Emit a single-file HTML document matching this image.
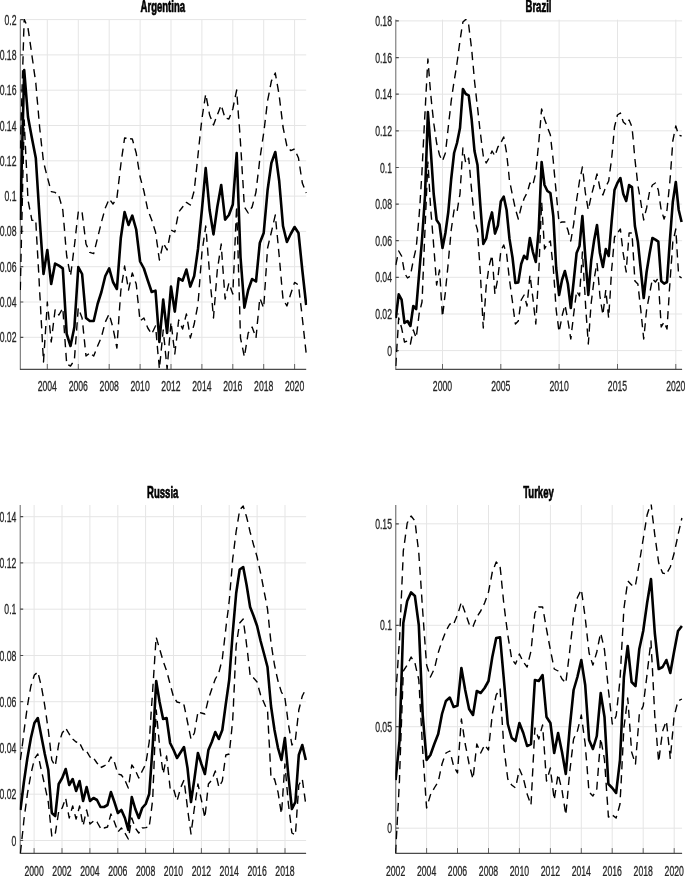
<!DOCTYPE html>
<html lang="en"><head><meta charset="utf-8"><title>Figure</title>
<style>
html,body{margin:0;padding:0;background:#fff;}
body{width:685px;height:876px;overflow:hidden;}
svg{display:block;}
.t{font-family:"Liberation Sans",sans-serif;fill:#262626;}
.tk{font-size:14px;stroke:#262626;stroke-width:0.25;vector-effect:non-scaling-stroke;}
.ti{font-size:16px;font-weight:bold;fill:#000;stroke:#000;stroke-width:0.55;vector-effect:non-scaling-stroke;}
.g{stroke:#e5e5e5;stroke-width:1;fill:none;}
.ax{stroke:#4a4a4a;stroke-width:1.2;fill:none;}
.axv{stroke:#404040;stroke-width:0.8;fill:none;}
.s{stroke:#000;stroke-width:2.6;fill:none;stroke-linejoin:round;stroke-linecap:butt;}
.d{stroke:#000;stroke-width:1.4;fill:none;stroke-linejoin:round;stroke-linecap:butt;}
</style></head><body>
<svg width="685" height="876" viewBox="0 0 685 876">
<rect width="685" height="876" fill="#fff"/>
<g id="p0">
<clipPath id="c0"><rect x="19.8" y="19.1" width="287.4" height="350.7"/></clipPath>
<path class="g" d="M47.3 19.6V369.3M78.3 19.6V369.3M109.2 19.6V369.3M140.1 19.6V369.3M171 19.6V369.3M201.9 19.6V369.3M232.8 19.6V369.3M263.7 19.6V369.3M294.6 19.6V369.3M20.3 337.3H306.2M20.3 302H306.2M20.3 266.7H306.2M20.3 231.4H306.2M20.3 196.1H306.2M20.3 160.8H306.2M20.3 125.5H306.2M20.3 90.2H306.2M20.3 54.9H306.2M20.3 19.6H306.2"/>
<path class="ax" d="M19.9 369.3H306.2M20.3 337.3h3M20.3 302h3M20.3 266.7h3M20.3 231.4h3M20.3 196.1h3M20.3 160.8h3M20.3 125.5h3M20.3 90.2h3M20.3 54.9h3M20.3 19.6h3"/>
<path class="axv" d="M20.3 19.6V369.3M47.3 369.3v-5.3M78.3 369.3v-5.3M109.2 369.3v-5.3M140.1 369.3v-5.3M171 369.3v-5.3M201.9 369.3v-5.3M232.8 369.3v-5.3M263.7 369.3v-5.3M294.6 369.3v-5.3"/>
<g clip-path="url(#c0)">
<path class="d" d="M20.3 148.5L20.5 140.2M20.7 134.5L21 126.2M21.1 120.5L21.4 112.2M21.6 106.5L21.8 98.3M22 92.6L22.2 84.3M22.4 78.6L22.6 70.3M22.8 64.6L23.1 56.3M23.2 50.6L23.5 42.3M23.6 36.6L23.9 28.3M24.1 22.6L24.2 19.4L26 23.5M28 28.1L29.2 36.2M30 41.8L31.2 49.9M31.9 55.4L33.1 63.5M33.8 69.1L35 77.2M35.7 82.7L35.8 83L36.5 91M36.9 96.6L37.7 104.8M38.2 110.5L38.9 118.7M39.4 124.3L39.6 127L40.2 132.5M40.8 138.1L41.7 146.3M42.4 151.9L43.3 160.1M44.4 165.5L46.3 173.1M47.7 178.4L49.7 186M51.1 191.3L51.2 191.6L55.1 192.4L56 193.2M59 196.1L61.1 203.7M62.5 208.9L62.8 210L63.4 217.1M63.9 222.7L64.6 230.9M65 236.6L65.7 244.8M66.2 250.5L66.7 256L67.2 258.6M68.2 264L69.7 271.9M70.7 274.6L71.8 266.4M72.5 260.9L73.5 252.7M74.2 247.2L74.4 246L75.2 239M75.8 233.4L76.7 225.2M77.4 219.6L78.3 212L78.6 212M82.1 212.4L83.1 220.5M83.8 226.1L84.8 234.3M85.5 239.9L86 244L87.5 247.3M89.6 251.9L89.8 252.4L93.7 253.6L94 252.4M95.3 247.1L97.2 239.4M98.5 234.1L100.4 226.4M101.7 221.1L103.8 213.5M105.2 208.3L105.3 208L108.1 201.4M110.5 200.7L113 204L114.4 201.9M116.9 197.9L117.9 189.7M118.5 184.1L119.5 176M120.1 170.4L120.8 165L121.1 162.2M121.9 156.7L123.1 148.6M123.9 143L124.6 138L126.5 138.3M130.1 138.8L132.3 139L133.5 143.2M134.9 148.4L136.2 153L136.7 156.2M137.6 161.7L138.9 169.7M139.8 175.3L140.1 177L141.7 182.9M143.1 188.1L143.9 191L144.9 195.9M146 201.3L147.6 209.2M149.4 214.1L151.7 220L152.1 221.2M153.7 226.3L155.5 232L155.8 233.8M156.5 239.4L157.7 247.5M158.4 253.1L159.4 260L159.6 258.9M160.9 253.5L162.6 245.7M164.4 245.1L167.1 250L167.4 248.4M168.5 242.9L170 235M171.2 230.1L174.8 232L175.2 229.9M176.3 224.4L177.8 216.5M179.2 211.4L182.6 207L183.2 206.2M186 202.9L186.4 202.4L190.3 205L190.5 204.3M191.9 199.1L194 191.5M194.7 185.9L195.6 177.7M196.2 172.1L197.1 163.9M197.7 158.3L198 155L198.5 150.2M199.1 144.5L200 136.4M200.6 130.7L201.5 122.6M202.2 117L203.4 108.9M204.3 103.4L205.5 95.3M206.5 98.1L208 106.1M209 111.6L209.6 115L211.2 119M213 123.8L213.5 125L215.7 119.1M217.6 114.3L220.3 107.2M222 107.8L224.2 115.2M226.7 118.4L228.9 119L230.5 115.1M232.3 110.2L232.8 109L234.1 102.5M235.2 97.1L236.7 90L236.7 90.9M237.1 96.5L237.7 104.8M238.1 110.4L238.7 118.7M239.2 124.3L239.8 132.6M240.2 138.2L240.5 143L240.7 146.5M241.1 152.2L241.6 160.4M241.9 166.1L242.4 174.3M242.8 180L243.3 188.3M243.6 194L244.1 202.2M244.8 207.6L248.2 213L248.5 212.6M251 208.7L252.1 207L253.5 201.6M254.9 196.3L256 192L256.4 188.4M257 182.8L258 174.7M258.7 169.1L259.6 160.9M260.4 155.3L261.6 147.3M262.4 141.7L263.6 133.7M264.3 128.1L265.3 119.9M266 114.3L266.9 106.2M267.6 100.6L269.2 92.7M270.2 87.2L271.4 81L272.1 79.6M274.3 75.1L275.3 73L276.2 78.4M277.2 83.9L278.6 91.9M279.4 97.4L280.4 105.6M281.1 111.2L282.1 119.3M282.8 124.9L283 127L284.2 132.9M285.3 138.3L286.9 146L287 146.1M289.8 149.5L290.7 150.6L294.6 149M296.6 153.7L298.5 158L298.9 161M299.8 166.5L301 174.5M301.9 180.1L302.3 183L304.1 187.5M305.9 192.3L306.2 193"/>
<path class="d" d="M20.3 290L20.5 281.7M20.6 276L20.8 267.7M20.9 262L21.1 253.7M21.3 248L21.4 239.7M21.6 234L21.8 225.7M21.9 220L22.1 211.8M22.2 206.1L22.4 197.8M22.5 192.1L22.7 183.8M22.8 178.1L23 169.8M23.2 164.1L23.4 155.8M23.5 150.1L23.7 141.8M23.8 136.1L24 127.8M24.1 122.1L24.2 120L24.5 126.2M24.7 131.8L25.1 140.1M25.4 145.8L25.8 154.1M26.1 159.8L26.5 168M26.8 173.7L27.2 182M27.4 187.7L27.8 196M28.3 201.6L29.8 209.5M30.9 215L31.9 220.4L33.5 220.4M35.9 222.5L36.3 230.7M36.6 236.4L37.1 244.7M37.4 250.4L37.9 258.6M38.2 264.3L38.7 272.6M39 278.3L39.4 286.5M39.7 292.2L40.2 300.5M40.5 306.1L40.9 314.4M41.2 320.1L41.7 328.4M42 334L42.4 342.3M42.7 348L43.2 356.3M43.5 361.9L43.5 362L44 353.8M44.4 348.1L44.9 339.9M45.3 334.2L45.8 326M46.2 320.3L46.7 312M47.1 306.4L47.3 302L47.7 305.9M48.3 311.5L49.1 319.7M49.6 325.3L50.4 333.5M50.9 339.2L51.2 342L51.9 336.7M52.5 331.1L53.5 322.9M54.2 317.3L55.1 310L55.5 310.5M58.2 314.1L58.9 315L61.8 309.9M63 311.1L63.6 319.4M64 325.1L64.5 333.3M64.9 339L65.5 347.2M65.9 352.9L66.5 361.1M68.3 364.9L70.5 366L72.6 362.8M74.5 358.4L75.1 350.1M75.5 344.5L76.2 336.2M76.6 330.6L77.2 322.3M77.6 316.7L78.2 308.4M80 312.5L82.1 318L82.3 319.7M82.9 325.4L83.7 333.6M84.3 339.2L85.1 347.4M85.7 353L86 356L88.9 353.7M92.1 354.8L93.7 356L95.5 351.4M97.4 346.6L97.6 346L100.3 339.7M102 334.8L104 327.1M105.4 321.9L108.5 315.3M110.2 317.7L112.3 325.3M113.5 330.6L115.1 338.5M116.1 343.9L116.9 348L117.2 344M117.5 338.3L118.1 330.1M118.5 324.4L119 316.1M119.4 310.5L120 302.2M120.4 296.6L120.8 291L121.2 288.4M122 282.8L123.3 274.8M124.1 269.3L124.6 266L125.4 270.8M126.3 276.3L127.6 284.3M128.5 289.9L128.5 290L130.2 282.4M131.4 277L132.3 273L133.6 276.5M135.3 281.5L136.2 284L136.8 289.3M137.3 294.9L138.2 303.1M138.8 308.7L139.6 316.9M140.9 320.3L143.9 318L144.9 320.5M146.8 325.4L147.8 328L150.1 331.6M152.5 332.2L155.5 326L155.6 326.4M156.1 332L156.8 340.2M157.3 345.9L158 354.1M158.6 359.7L159.3 367.9M159.8 364.4L160.7 356.2M161.2 350.6L162 342.4M162.6 336.8L163.2 330L163.4 331.4M163.9 337.1L164.8 345.2M165.3 350.9L166.1 359.1M166.7 364.7L167.1 369L167.4 365.1M167.9 359.4L168.6 351.2M169 345.6L169.7 337.3M170.2 331.7L170.9 323.5M171.5 326.2L172.5 334.3M173.1 339.9L174.1 348M174.8 353.6L174.8 354L175.7 346.2M176.4 340.6L177.3 332.4M177.9 326.8L178.7 320L179.2 321.1M181.2 325.8L182.6 329L183.6 324.9M185 319.7L186.4 314L186.8 316.1M187.7 321.6L189 329.7M189.8 335.2L190.3 338L191.7 333.1M193.1 327.9L194.2 324L194.9 320.1M196 314.7L197.5 306.8M198.2 301.2L198.9 293M199.3 287.3L199.9 279.1M200.3 273.4L201 265.2M201.4 259.5L201.9 253L202.1 251.3M202.9 245.8L204.1 237.7M204.9 232.1L205.7 226L205.9 228M206.4 233.7L207 241.9M207.5 247.5L208.1 255.8M208.6 261.4L209.3 269.7M209.7 275.3L210.4 283.5M210.9 289.2L211.7 297.4M212.2 303L212.9 311.2M213.4 316.9L213.5 318L214 310.9M214.5 305.2L215.2 297M215.6 291.3L216.3 283.1M216.7 277.5L217.3 270L217.5 269.2M218.3 263.7L219.5 255.6M220.3 250.1L221.2 244L221.3 246M221.7 251.7L222.3 259.9M222.7 265.6L223.3 273.9M223.7 279.5L224.3 287.8M224.7 293.4L225.1 299L225.7 296.5M227 291.2L228.8 283.4M230.5 287.5L232.8 294L232.8 293.1M233.1 287.4L233.4 279.2M233.7 273.5L234.1 265.2M234.3 259.5L234.7 251.2M234.9 245.5L235.3 237.3M235.5 231.6L235.9 223.3M236.1 217.6L236.5 209.3M236.7 208.4L237 216.6M237.1 222.3L237.4 230.6M237.5 236.3L237.8 244.6M238 250.3L238.2 258.6M238.4 264.3L238.6 272.6M238.8 278.3L239 286.6M239.2 292.3L239.4 300.6M239.6 306.2L239.8 314.5M240 320.2L240.2 328.5M240.4 334.2L240.5 338L241.4 342.3M242.5 347.7L244.1 355.6M245 352.9L246.3 344.9M247.2 339.4L248.2 333L249 331.8M251.6 327.9L252.1 327L254.3 333.1M256 337.9L256.8 329.7M257.3 324L258.1 315.8M258.7 310.2L259.4 302M260.4 299.4L263.1 306.4M263.9 304.2L264.5 295.9M264.8 290.2L265.4 282M265.7 276.3L266.3 268.1M266.6 262.4L267.2 254.1M267.5 248.5L267.6 248L269.3 240.7M270.6 235.4L271.4 232L272.4 227.6M273.6 222.3L275.3 215L275.3 215.6M275.9 221.2L276.6 229.4M277.2 235L278 243.2M278.5 248.9L279.2 256L279.3 257.1M279.8 262.7L280.5 270.9M281 276.6L281.7 284.8M282.2 290.4L283 298.6M285.2 303L286.9 306L288.1 302.2M289.7 297.2L290.7 294L292.1 289.8M293.8 284.8L294.6 282.4L297.8 284.5M299 289.4L299.9 297.6M300.6 303.2L301.6 311.4M302.2 317L302.3 318L303.1 325.1M303.7 330.8L304.6 338.9M305.2 344.5L306.1 352.7"/>
<path class="s" d="M20.3 220L24.2 70L28 117L31.9 138L35.8 158L39.6 218L43.5 274L47.3 250L51.2 284L55.1 263.6L58.9 265.6L62.8 268.4L66.7 334L70.5 346L74.4 327L78.3 267L82.1 274L86 318L89.8 321L93.7 321L97.6 304L101.4 292L105.3 276L109.2 268.4L113 282L116.9 289L120.8 238L124.6 212L128.5 225L132.3 215.6L136.2 229.5L140.1 261.5L143.9 268.5L147.8 280.5L151.7 292L155.5 290.6L159.4 342L163.2 299.6L167.1 333L171 286.6L174.8 311.6L178.7 278.4L182.6 280.7L186.4 269.6L190.3 286.6L194.2 276L198 249L201.9 210L205.7 168L209.6 210L213.5 234.4L217.3 207L221.2 185L225.1 219.6L228.9 215L232.8 204.5L236.7 153L240.5 257L244.4 307.6L248.2 290L252.1 279L256 281.5L259.8 243L263.7 233L267.6 190L271.4 163L275.3 152L279.2 181L283 226L286.9 242L290.7 234L294.6 227L298.5 233L302.3 270L306.2 305"/>
</g>
<text class="t tk" text-anchor="end" transform="translate(16.5 342.3) scale(0.62 1)">0.02</text>
<text class="t tk" text-anchor="end" transform="translate(16.5 307) scale(0.62 1)">0.04</text>
<text class="t tk" text-anchor="end" transform="translate(16.5 271.7) scale(0.62 1)">0.06</text>
<text class="t tk" text-anchor="end" transform="translate(16.5 236.4) scale(0.62 1)">0.08</text>
<text class="t tk" text-anchor="end" transform="translate(16.5 201.1) scale(0.62 1)">0.1</text>
<text class="t tk" text-anchor="end" transform="translate(16.5 165.8) scale(0.62 1)">0.12</text>
<text class="t tk" text-anchor="end" transform="translate(16.5 130.5) scale(0.62 1)">0.14</text>
<text class="t tk" text-anchor="end" transform="translate(16.5 95.2) scale(0.62 1)">0.16</text>
<text class="t tk" text-anchor="end" transform="translate(16.5 59.9) scale(0.62 1)">0.18</text>
<text class="t tk" text-anchor="end" transform="translate(16.5 24.6) scale(0.62 1)">0.2</text>
<text class="t tk" text-anchor="middle" transform="translate(47.3 391.4) scale(0.62 1)">2004</text>
<text class="t tk" text-anchor="middle" transform="translate(78.3 391.4) scale(0.62 1)">2006</text>
<text class="t tk" text-anchor="middle" transform="translate(109.2 391.4) scale(0.62 1)">2008</text>
<text class="t tk" text-anchor="middle" transform="translate(140.1 391.4) scale(0.62 1)">2010</text>
<text class="t tk" text-anchor="middle" transform="translate(171 391.4) scale(0.62 1)">2012</text>
<text class="t tk" text-anchor="middle" transform="translate(201.9 391.4) scale(0.62 1)">2014</text>
<text class="t tk" text-anchor="middle" transform="translate(232.8 391.4) scale(0.62 1)">2016</text>
<text class="t tk" text-anchor="middle" transform="translate(263.7 391.4) scale(0.62 1)">2018</text>
<text class="t tk" text-anchor="middle" transform="translate(294.6 391.4) scale(0.62 1)">2020</text>
<text class="t ti" text-anchor="middle" transform="translate(162.8 12.3) scale(0.597 1)">Argentina</text>
</g>
<g id="p1">
<clipPath id="c1"><rect x="395.3" y="19.1" width="287.8" height="350.7"/></clipPath>
<path class="g" d="M442.5 19.6V369.3M500.8 19.6V369.3M559.1 19.6V369.3M617.5 19.6V369.3M675.8 19.6V369.3M395.8 350.6H682.1M395.8 314H682.1M395.8 277.3H682.1M395.8 240.7H682.1M395.8 204.1H682.1M395.8 167.5H682.1M395.8 130.8H682.1M395.8 94.2H682.1M395.8 57.6H682.1M395.8 20.9H682.1"/>
<path class="ax" d="M395.4 369.3H682.1M395.8 350.6h3M395.8 314h3M395.8 277.3h3M395.8 240.7h3M395.8 204.1h3M395.8 167.5h3M395.8 130.8h3M395.8 94.2h3M395.8 57.6h3M395.8 20.9h3"/>
<path class="axv" d="M395.8 19.6V369.3M442.5 369.3v-5.3M500.8 369.3v-5.3M559.1 369.3v-5.3M617.5 369.3v-5.3M675.8 369.3v-5.3"/>
<g clip-path="url(#c1)">
<path class="d" d="M395.8 265L397.4 257.1M398.6 251.7L398.7 251L401.6 256L401.7 256.6M402.7 262.1L404.1 270.1M405.7 275L407.5 278L409.8 276.4M411.2 271.4L412.7 263.5M413.8 258.1L415.6 250.3M416.5 244.8L417.2 236.6M417.8 231L418.5 222.8M419 217.1L419.1 216L419.6 208.9M420 203.2L420.5 195M420.9 189.3L421.4 181M421.8 175.4L422 171L422.2 167.1M422.5 161.4L422.9 153.2M423.2 147.5L423.6 139.2M423.9 133.5L424.3 125.3M424.6 119.6L425 113L425.1 111.3M425.4 105.6L425.8 97.4M426.1 91.7L426.6 83.4M426.9 77.7L427.3 69.5M427.6 63.8L427.9 59L428.2 62.5M428.6 68.1L429.3 76.4M429.7 82L430.4 90.2M430.9 95.9L431.7 104.1M432.3 109.7L433.2 117.9M433.8 123.5L435 131.6M435.8 137.1L436.6 143L437.1 145.1M438.4 150.4L439.5 155L440.8 157.7M442.9 159.8L445.4 153L445.4 152.5M446.1 146.9L447 138.8M447.6 133.2L448.3 127L448.5 125M449.1 119.4L450.1 111.2M450.7 105.6L451.2 101L451.7 97.5M452.5 91.9L453.7 83.8M454.6 78.3L455.9 70.3M456.8 64.8L457 63L457.9 56.7M458.6 51.1L459.7 43M460.5 37.4L461.7 29.4M462.6 23.8L462.9 22L465.8 19.4L466.2 20.2M468.5 24.5L468.7 25L469.6 32.6M470.3 38.2L471.3 46.3M471.9 51.9L472.6 60.1M473.2 65.8L473.9 74M474.4 79.6L474.5 81L475.3 87.8M475.9 93.4L476.8 101.6M477.5 107.2L478.4 115.4M479 121L479.9 129.1M480.6 134.7L481.6 142.9M482.3 148.4L483.3 156L483.5 156.5M485.5 161.2L486.2 163L488.8 158.5M490.8 153.9L492 151L494.1 154.5M496 152.7L497.9 147L498.7 145.8M501.3 141.9L503.7 137L504.1 139M505.1 144.4L506.5 152.4M507.1 158L508 166.2M508.6 171.8L509.4 180M510.5 185.4L512.1 193.3M513.2 198.7L514.9 206.6M516.2 211.8L518.3 219L518.4 218.6M519.7 213.3L521.2 207L521.6 205.7M523.4 200.7L524.1 198.5L526.4 194.1M528.2 189.2L529.9 183L530.8 183.6M533.3 183.1L535.2 175.3M536.1 169.8L536.9 161.6M537.4 156L538.2 147.8M538.8 142.2L539.5 134M540 128.3L540.7 120.1M541.1 114.4L541.6 109L542.4 111.5M543.9 116.7L544.5 119L546.3 124M548.1 128.9L550.4 135L550.5 136.2M551.1 141.8L552 149.9M552.7 155.6L553.3 161L553.5 163.7M554 169.4L554.8 177.6M555.3 183.2L556.1 191.4M556.6 197.1L557.4 205.3M557.9 210.9L558.7 219.1M560.2 222.6L562 222L564.9 222L565.1 222.5M566.9 227.4L567.9 230L569.1 234.8M570.5 240.1L570.8 241L572 234M572.9 228.5L573.7 224L574.1 220.4M574.8 214.8L575.8 206.7M576.5 201.1L576.6 200L577.7 193M578.5 187.5L579.5 181L579.8 179.5M581 174.1L582.4 167L582.5 167.8M583.2 173.5L584.1 181.6M584.7 187.2L585.4 193L585.8 195.4M586.7 200.8L588.1 208.8M589.2 205.7L590.8 197.9M592.1 192.6L594.1 185L594.1 184.9M595.5 179.7L597 174L597.4 176M598.6 181.4L599.9 188L600.4 189.1M602.4 193.8L602.9 195L605 189.1M607 184.4L608.7 181L609.2 177.1M609.9 171.5L611 163.4M611.7 157.8L612.5 149.6M613 144L613.7 135.7M614.2 130.1L614.5 127L615.7 122.2M617 116.9L617.4 115L620.4 113L620.7 114M622.3 119.1L623.3 122L626 124.4M628.5 120.9L629.1 120L631.5 125.8M632.4 131.3L633.2 139.5M633.7 145.1L634.4 153.3M634.9 159L634.9 159L635.8 167.1M636.5 172.7L637.4 180.9M638.1 186.5L639.5 194.5M640.4 200L640.8 202L641.7 208M642.6 213.5L643.7 220L644 218.5M645.3 213.2L646.6 208L647.1 205.4M648.1 199.9L649.5 192L649.5 192M651.5 187.2L652.4 185L655.4 183L655.5 183.4M657.5 188.1L658.3 190L659.1 195.9M659.9 201.4L661.1 209.5M662.7 214.6L664.1 219L665.1 216M666.7 211L667 210L667.7 202.9M668.3 197.3L669.1 189.1M669.7 183.4L669.9 181L670.4 175.2M670.8 169.6L671.4 161.3M671.8 155.6L672.4 147.4M672.8 141.7L672.8 141L674.2 133.8M675.3 128.4L675.8 126L677.4 131.2M679.5 135.3L681.6 136"/>
<path class="d" d="M395.8 366L396.3 357.7M396.6 352.1L397.1 343.8M397.5 338.1L398 329.9M398.3 324.2L398.7 318L399.3 319.9M400.8 325L401.6 328L402.6 332.8M403.7 338.2L404.5 342L407.1 341.1M410.2 343.8L410.4 344L411.9 336.5M413.1 331.1L413.3 330L415.5 336.1M416.6 334.6L417.6 326.4M418.3 320.8L419.1 314L419.4 312.7M420.7 307.4L422 302L422.1 299.5M422.4 293.9L422.7 285.6M422.9 279.9L423.3 271.6M423.5 265.9L423.8 257.6M424.1 251.9L424.4 243.7M424.6 238L425 230L425 229.7M425.2 224L425.6 215.7M425.8 210L426.2 201.8M426.4 196.1L426.8 187.8M427 182.1L427.4 173.8M427.6 168.1L427.9 162L428 164.1M428.4 169.8L428.9 178.1M429.2 183.7L429.7 192M430 197.7L430.5 205.9M430.9 211.6L431.6 219.8M432.1 225.5L432.7 233.7M433.2 239.4L433.7 246L433.8 247.6M434.3 253.3L434.9 261.5M435.3 267.2L435.9 275.4M436.3 281.1L436.6 285L437.4 280.9M438.5 275.4L439.5 270L439.7 272.6M440.1 278.3L440.6 286.5M440.9 292.2L441.4 300.5M441.8 306.1L442.3 314.4M442.8 314L443.8 305.8M444.4 300.2L445.4 292.1M445.9 286.4L446.7 278.2M447.3 272.6L448.1 264.4M448.6 258.8L449.3 250.6M449.9 244.9L450.6 236.7M451.1 231.1L451.2 230L452.2 223M453 217.4L454.1 210L454.5 210.3M457.2 210.8L458.5 202.7M459.4 197.2L460 194L460.3 189.1M460.6 183.4L461.2 175.1M461.5 169.5L462 161.2M462.4 155.5L462.9 148L463 148.7M464.1 154.1L465.6 162.1M467.8 159.6L468.7 158L469.3 164.1M469.8 169.7L470.5 177.9M471 183.6L471.6 190L471.8 191.8M472.3 197.4L473.1 205.6M473.7 211.2L474.5 219.4M475.9 224.6L477.5 230L477.6 232.4M478 238L478.5 246.3M478.9 252L479.5 260.2M479.8 265.9L480.4 274L480.4 274.1M480.7 279.8L481.1 288.1M481.4 293.8L481.9 302M482.2 307.7L482.6 316M482.9 321.7L483.3 328L483.4 326.1M483.8 320.4L484.4 312.2M484.8 306.5L485.4 298.3M485.7 292.6L486.2 286L486.4 284.4M487.3 278.8L488.4 270.8M489.3 265.2L491.3 257.6M492.2 257.8L492.9 266.1M493.3 271.7L493.9 280M494.3 285.6L494.9 293.9M495.9 288.7L497.4 280.7M498.2 275.1L499.1 267M499.7 261.4L500.6 253.2M502.1 248.3L503.7 245L504.9 248.7M506.5 253.7L506.6 254L507.5 261.9M508.1 267.5L509 275.7M509.7 281.3L510.8 289.4M511.5 294.9L512.5 302L512.6 303.1M513.3 308.6L514.4 316.8M515.1 322.3L515.4 324L518.3 321L518.4 320M519.2 314.4L520.3 306.3M521.1 300.8L521.2 300L524.1 295L524.3 295.6M525.7 300.8L527 306L527.3 303.4M527.8 297.7L528.6 289.5M529.1 283.9L529.9 275.7M530.6 279.9L531.6 288M532.3 293.6L532.9 298L533.3 301.8M533.9 307.4L534.8 315.5M535.5 321.2L535.8 324L536.1 318.6M536.4 312.9L536.9 304.7M537.2 299L537.7 290.7M538.1 285.1L538.5 276.8M538.8 271.1L539.2 262.8M539.4 257.1L539.7 248.9M539.9 243.2L540.3 234.9M540.5 229.2L540.8 220.9M541.1 215.2L541.4 207M541.7 202.7L542.2 211M542.5 216.7L543 224.9M543.4 230.6L543.9 238.9M544.3 244.5L544.5 249L546.1 246.2M548.8 242.6L550.4 241L550.9 246.3M551.5 251.9L552.4 260.1M553 265.7L553.3 268L553.7 273.9M554.1 279.6L554.7 287.8M555.1 293.5L555.6 301.7M556 307.4L556.2 310L556.9 315.6M557.7 321.1L558.7 329.3M559.6 329.2L561.1 321.3M562.1 315.8L564.1 308.2M565.4 307.1L566.9 315.1M567.9 320.5L569.2 328.6M570 334.1L570.8 339L571.2 335.8M571.8 330.2L572.8 322M573.4 316.4L573.7 314L574.4 308.3M575.1 302.7L576.2 294.6M577.5 292.5L579.5 296L579.8 292.5M580.1 286.9L580.7 278.6M581.1 273L581.6 264.7M582 259L582.4 252L582.5 253.2M582.8 258.9L583.3 267.2M583.7 272.8L584.1 281.1M584.5 286.8L585 295M585.3 300.7L585.4 302L585.8 309M586.2 314.6L586.8 322.9M587.2 328.5L587.8 336.8M588.2 342.5L588.3 344L588.8 337.3M589.2 331.6L589.7 323.4M590.1 317.7L590.7 309.5M591.1 303.8L591.2 303L592.1 295.7M592.8 290.1L593.8 281.9M594.6 276.4L596 268.4M597 263L597.8 271.3M598.3 276.9L599 285.1M599.5 290.8L599.9 296L600.4 298.9M601.2 304.5L602.5 312.5M603.2 311.9L604.2 303.8M604.8 298.2L605.8 290M606.4 295.6L607.2 303.8M607.8 309.4L608.6 317.6M609 312.7L609.5 304.5M609.9 298.8L610.4 290.5M610.7 284.9L611.2 276.6M611.6 270.9L611.6 270L612.3 262.7M612.8 257.1L613.5 248.8M614 243.2L614.5 237L615.5 235.7M618.2 232L620.4 229L620.8 232.6M621.4 238.2L622.4 246.4M623 252L623.3 254L624.3 260M625.1 265.6L626.2 272L626.3 270.4M626.7 264.7L627.3 256.5M627.8 250.8L628.4 242.6M628.8 236.9L629.1 233L631.8 233M632.3 238.3L632.8 246.6M633.2 252.3L633.7 260.5M634 266.2L634.5 274.5M634.9 280.1L634.9 281L637.9 284L638.1 285.8M638.7 291.4L639.6 299.6M640.2 305.2L640.8 310L641.1 313.4M641.7 319L642.5 327.2M643.1 332.8L643.7 339L643.9 337M644.5 331.3L645.3 323.2M645.8 317.5L646.6 310L646.7 309.4M647.7 303.9L649.2 295.9M650.2 290.5L651.7 282.6M653.5 280.1L655.4 282L657.6 279M658.5 282.2L659 290.5M659.3 296.1L659.8 304.4M660.2 310.1L660.7 318.3M661 324L661.2 327L663.4 323.1M665.5 325.4L667 329L667.3 325M667.6 319.3L668.1 311.1M668.5 305.4L669 297.2M669.3 291.5L669.9 283.2M670.3 277.6L670.9 269.3M671.3 263.7L671.9 255.4M672.3 249.8L672.8 242L673 241.5M674.2 236.2L675.8 229L675.8 229.7M676.2 235.3L676.7 243.6M677 249.3L677.5 257.5M677.9 263.2L678.4 271.5M679.3 276.4L681.6 278"/>
<path class="s" d="M395.8 318L398.7 294.4L401.6 299.6L404.5 323L407.5 321L410.4 326L413.3 306L416.2 309L419.1 274L422 240L425 196L427.9 112L430.8 151L433.7 194L436.6 220L439.5 224.4L442.5 248L445.4 233L448.3 212L451.2 179L454.1 153L457 143L460 128L462.9 89L465.8 94L468.7 95.4L471.6 119L474.5 151L477.5 165L480.4 206L483.3 244L486.2 238.5L489.1 222.5L492 212.4L495 233.6L497.9 225.5L500.8 201.5L503.7 196.6L506.6 210L509.5 239L512.5 257.5L515.4 283L518.3 282.4L521.2 264L524.1 255.8L527 259L529.9 238L532.9 252L535.8 262L538.7 230L541.6 162L544.5 185L547.4 191L550.4 193L553.3 216L556.2 268L559.1 295L562 280L564.9 271L567.9 284L570.8 308L573.7 281L576.6 253L579.5 246L582.4 216L585.4 258L588.3 295L591.2 260.5L594.1 240.5L597 225L599.9 253L602.9 267L605.8 249L608.7 256L611.6 222L614.5 190L617.4 183L620.4 178L623.3 194L626.2 201L629.1 185L632 187L634.9 226L637.9 242L640.8 270L643.7 298L646.6 272L649.5 254L652.4 238L655.4 239.6L658.3 241.6L661.2 281L664.1 283.6L667 282L669.9 240L672.8 202L675.8 182L678.7 210L681.6 222"/>
</g>
<text class="t tk" text-anchor="end" transform="translate(392 355.6) scale(0.62 1)">0</text>
<text class="t tk" text-anchor="end" transform="translate(392 319) scale(0.62 1)">0.02</text>
<text class="t tk" text-anchor="end" transform="translate(392 282.3) scale(0.62 1)">0.04</text>
<text class="t tk" text-anchor="end" transform="translate(392 245.7) scale(0.62 1)">0.06</text>
<text class="t tk" text-anchor="end" transform="translate(392 209.1) scale(0.62 1)">0.08</text>
<text class="t tk" text-anchor="end" transform="translate(392 172.5) scale(0.62 1)">0.1</text>
<text class="t tk" text-anchor="end" transform="translate(392 135.8) scale(0.62 1)">0.12</text>
<text class="t tk" text-anchor="end" transform="translate(392 99.2) scale(0.62 1)">0.14</text>
<text class="t tk" text-anchor="end" transform="translate(392 62.6) scale(0.62 1)">0.16</text>
<text class="t tk" text-anchor="end" transform="translate(392 25.9) scale(0.62 1)">0.18</text>
<text class="t tk" text-anchor="middle" transform="translate(442.5 391.4) scale(0.62 1)">2000</text>
<text class="t tk" text-anchor="middle" transform="translate(500.8 391.4) scale(0.62 1)">2005</text>
<text class="t tk" text-anchor="middle" transform="translate(559.1 391.4) scale(0.62 1)">2010</text>
<text class="t tk" text-anchor="middle" transform="translate(617.5 391.4) scale(0.62 1)">2015</text>
<text class="t tk" text-anchor="middle" transform="translate(675.8 391.4) scale(0.62 1)">2020</text>
<text class="t ti" text-anchor="middle" transform="translate(538.5 12.3) scale(0.597 1)">Brazil</text>
</g>
<g id="p2">
<clipPath id="c2"><rect x="19.7" y="504.5" width="287.4" height="349.4"/></clipPath>
<path class="g" d="M34.1 505V853.4M62 505V853.4M89.9 505V853.4M117.8 505V853.4M145.6 505V853.4M173.5 505V853.4M201.4 505V853.4M229.2 505V853.4M257.1 505V853.4M285 505V853.4M20.2 840.5H306.1M20.2 794.2H306.1M20.2 748H306.1M20.2 701.7H306.1M20.2 655.5H306.1M20.2 609.2H306.1M20.2 562.9H306.1M20.2 516.7H306.1"/>
<path class="ax" d="M19.8 853.4H306.1M20.2 840.5h3M20.2 794.2h3M20.2 748h3M20.2 701.7h3M20.2 655.5h3M20.2 609.2h3M20.2 562.9h3M20.2 516.7h3"/>
<path class="axv" d="M20.2 505V853.4M34.1 853.4v-5.3M62 853.4v-5.3M89.9 853.4v-5.3M117.8 853.4v-5.3M145.6 853.4v-5.3M173.5 853.4v-5.3M201.4 853.4v-5.3M229.2 853.4v-5.3M257.1 853.4v-5.3M285 853.4v-5.3"/>
<g clip-path="url(#c2)">
<path class="d" d="M20.4 760L21.5 751.9M22.2 746.3L23.2 738.1M23.9 732.5L23.9 732L24.9 724.4M25.7 718.9L26.8 710.7M27.6 705.2L28.9 697.2M29.9 691.7L30.9 686L31.6 683.9M33.2 678.8L34.4 675L36.6 673.1M38.6 675.1L40.5 682.8M41.7 688.2L43.1 696.2M44.1 701.7L44.8 706L45.3 709.7M46.2 715.3L47.3 723.3M48.1 728.9L48.3 730L49.1 737M49.8 742.6L50.7 750.8M51.4 756.4L51.8 760L53.7 763.4M55.6 763.9L56.8 755.9M57.7 750.4L58.7 744L59.2 742.5M60.8 737.4L62.2 733L63.8 730.8M66.3 729.1L69.2 734L69.9 735.1M72.6 738.9L72.7 739L76.1 742L77.2 742.3M80.3 744.4L83.1 750L83.7 750.2M87 751.8L90 757L90.8 757.2M94.1 758.8L97 763L97.9 764.2M100.7 767.5L104 766L105.6 765M108.5 762L110.9 757L111.8 758.3M114.4 762.1L116.6 769.6M118.4 774.1L121.4 775L123 777.3M125.4 781.3L128.3 788L128.4 787.8M129.2 782.3L130.4 774.2M131.2 768.7L131.8 765L133.9 768M136.2 772.2L138.8 778L139.2 777.1M141.4 772.6L142.2 771L144.7 766.1M146.2 761.1L147.5 753.1M148.3 747.6L149.2 742L149.4 739.5M149.8 733.8L150.3 725.6M150.7 719.9L151.2 711.6M151.6 706L152.2 697.7M152.6 692L152.7 690L153.1 683.8M153.5 678.1L154 669.9M154.4 664.2L154.9 655.9M155.3 650.3L155.8 642M156.3 637.6L158.5 645.1M160 650.3L162.2 657.8M163.8 662.9L166.3 670.1M167.8 675.3L169.8 682.9M171.2 688.2L173.2 695.8M175.6 699.9L177 702L180.2 702.9M183.5 704.7L184 705L185.5 712.1M186.6 717.5L187.5 722L188.2 725.4M189.3 730.8L190.9 738.7M193.2 735.1L194.4 733L195.3 727.7M196.2 722.2L197.6 714.2M200 712.6L201.4 713L204.9 714L205 713.7M206.2 708.4L208 700.6M209.6 695.5L211.8 689L212.1 688.3M213.8 683.3L215.3 679L216.8 676.5M219 672.2L220.9 664.5M222.2 659.2L222.3 659L223.2 651.1M223.9 645.5L224.8 637.3M225.5 631.7L225.8 629L226.4 623.6M227.1 618L228.2 609.8M228.8 604.2L229.2 601L229.7 596M230.1 590.4L230.8 582.2M231.3 576.5L232 568.3M232.4 562.6L232.7 559L233.3 554.5M234 548.9L235 540.7M235.7 535.2L236.2 531L236.9 527.1M237.8 521.6L239.1 513.5M240.7 508.8L243.2 506L244.1 509.1M245.7 514.1L246.6 517L247.8 521.8M249 527.1L250.1 532L250.9 534.8M252.3 540.1L253.6 545L254.4 547.6M255.9 552.8L257.1 557L257.8 560.5M259 565.8L260.6 573L260.7 573.7M261.8 579.1L263.3 587M264.3 592.5L265.9 600.4M266.9 605.8L267.5 609L268 613.9M268.6 619.6L269.4 627.7M270 633.4L270.9 641.6M271.7 647.1L272.9 655.2M273.8 660.7L274.5 665L275.3 668.6M276.4 674L278 681L278.2 681.8M279.8 686.9L281.4 692L282.5 693.8M284.9 698L286 706.1M286.8 711.7L287.8 719.8M288.6 725.4L290 733.4M290.9 738.9L291.9 745L292.8 743.7M295.4 739.8L296.3 731.7M297 726.1L297.9 717.9M298.6 712.3L298.8 710L300.2 704.5M301.5 699.2L302.3 696L304.2 692.2"/>
<path class="d" d="M20.4 853L21.3 844.8M21.9 839.2L22.8 831M23.4 825.4L23.9 820L24.3 817.2M25 811.7L26.1 803.6M26.9 798L27.4 794L28.1 789.9M29.1 784.4L30.5 776.5M31.6 771L33.4 763.3M34.9 758.2L37.8 754L38.2 755.8M39.4 761.2L41.1 769M42.3 774.4L44 782.2M45.2 787.6L46.9 795.4M48 800.8L48.3 802L49 809M49.6 814.6L50.4 822.8M51 828.4L51.8 836L52.1 835.8M55.3 833.7L56.5 825.6M57.4 820.1L58.6 812M61.3 808.8L62.2 808L64.2 802.2M65.8 798.8L67.2 806.8M68.2 812.3L69.2 818L69.8 815.9M71.3 810.7L72.7 806L73.4 808.9M74.8 814.1L76.1 819L76.9 816.3M78.3 811.1L79.6 806L80.1 808.7M81 814.2L82.4 822.2M83.4 824.4L85.1 816.5M86.3 811.2L86.6 810L88.2 816.6M89.5 821.8L90 824L93.3 821.2M96.8 821.9L97 822L100.4 827.8M103.8 828L104 828L107.5 827L108 824.8M109.4 819.6L110.9 814L111.7 815.8M113.8 820.5L114.4 822L116.4 827.6M118.2 831.6L121.4 828L122.3 829.4M125 833.2L128.3 839L128.4 838.7M129.3 833.2L130.6 825.1M131.5 819.6L131.8 818L133.8 823.8M135.7 828.6L138.8 833L139.5 831.9M142.2 828.1L142.2 828L145.7 827.6L147.3 827.3M149.5 824.5L150.6 816.4M151.3 810.8L152.3 802.7M152.8 797L153.1 788.8M153.3 783.1L153.7 774.8M153.9 769.1L154.2 760.8M154.4 755.1L154.7 746.8M155 741.1L155.3 732.9M155.5 727.2L155.8 718.9M156 713.2L156.2 710L156.7 715M157.2 720.7L158 728.9M158.5 734.5L159.3 742.7M159.9 748.3L160.9 756.4M161.6 762L162.7 770.2M163.5 772.3L165 764.4M166 758.9L166.6 756L167.2 761.2M167.8 766.8L168.7 775M169.3 780.6L170.1 788L170.6 788.1M173.8 789.7L175.9 797.2M177.4 799.6L179.5 792M181 786.9L184 780.1M184.7 785.5L185.7 793.6M186.4 799.2L187.4 807.3M188.1 812.9L189.2 821M190 826.6L191 834L191.1 833.3M191.8 827.7L192.9 819.6M193.6 814L194.4 808L194.7 805.9M195.6 800.4L196.7 792.3M197.5 786.8L197.9 784L199.1 789.2M200.2 794.5L201.4 800L201.9 802.4M202.9 807.8L204.5 815.8M205.2 814.7L206.1 806.5M206.6 800.9L207.5 792.7M208.1 787.1L208.4 784L211 781M213.2 776.6L215.3 771L215.7 772.6M216.8 778L218.6 785.8M220.7 783.8L222.3 781L222.9 776.6M223.6 771L224.7 762.9M225.5 757.3L225.8 755L229.2 754L229.3 753.8M229.8 748.1L230.7 740M231.3 734.3L232.1 726.1M232.7 720.5L232.7 720L233.1 712.3M233.4 706.6L233.7 698.3M234 692.6L234.4 684.3M234.6 678.6L235 670.4M235.3 664.7L235.7 656.4M235.9 650.7L236.2 645L236.6 642.5M237.5 637L238.7 629M239.6 623.4L239.7 623L243.2 619L243.3 619.9M244 625.5L245.1 633.6M245.9 639.2L246.6 645L246.9 647.3M247.6 652.9L248.5 661.1M249.2 666.7L250.1 674.8M253.2 677.6L253.6 678L257.1 682L257.2 682.5M258.6 687.8L260.6 695L260.7 695.3M262.8 700L264.1 703L265.7 706.8M267.6 711.6L268 719.8M268.3 725.5L268.7 733.8M269 739.5L269.5 747.7M269.8 753.4L270.2 761.7M270.5 767.4L270.9 775.6M273.5 778.5L274.5 779L276.1 785.1M277.5 790.4L278 792L279 798.3M279.8 803.8L281.1 811.9M281.7 810.5L282.3 802.3M282.7 796.6L283.2 788.3M283.6 782.7L284.2 774.4M284.6 768.8L284.9 764L285.2 767.5M285.7 773.1L286.4 781.3M286.9 787L287.6 795.2M288.1 800.8L288.4 804L289 809M289.7 814.6L290.7 822.8M291.3 828.4L291.9 833L294 834.2M295.6 831.7L296.2 823.5M296.6 817.8L297.1 809.5M297.5 803.9L298.1 795.6M298.5 790L298.8 785L300.2 782.6M302.4 779.8L303.5 787.9M304.3 793.5L305.4 801.6"/>
<path class="s" d="M20.4 810L23.9 782L27.4 758L30.9 738L34.4 723L37.8 718L41.3 736L44.8 754L48.3 770L51.8 813L55.2 816L58.7 784L62.2 778L65.7 769L69.2 785L72.7 779L76.1 791L79.6 781L83.1 801L86.6 787L90 801L93.5 798L97 800L100.5 807L104 807L107.5 805L110.9 792L114.4 802L117.9 813L121.4 810L124.9 818L128.3 830L131.8 797L135.3 809L138.8 818L142.2 808L145.7 804L149.2 794L152.7 746L156.2 681L159.6 702L163.1 719L166.6 718L170.1 743L173.6 750L177 758L180.5 752.5L184 747L187.5 768L191 802L194.4 779L197.9 753L201.4 764L204.9 774L208.4 750L211.8 742L215.3 732L218.8 739L222.3 730L225.8 704L229.2 680L232.7 633L236.2 593L239.7 569.5L243.2 567L246.6 585L250.1 607L253.6 616L257.1 626L260.6 641L264.1 654L267.5 667L271 706L274.5 730L278 748L281.4 760L284.9 738L288.4 776L291.9 809L295.4 802L298.8 755L302.3 745L305.8 760"/>
</g>
<text class="t tk" text-anchor="end" transform="translate(16.4 845.5) scale(0.62 1)">0</text>
<text class="t tk" text-anchor="end" transform="translate(16.4 799.2) scale(0.62 1)">0.02</text>
<text class="t tk" text-anchor="end" transform="translate(16.4 753) scale(0.62 1)">0.04</text>
<text class="t tk" text-anchor="end" transform="translate(16.4 706.7) scale(0.62 1)">0.06</text>
<text class="t tk" text-anchor="end" transform="translate(16.4 660.5) scale(0.62 1)">0.08</text>
<text class="t tk" text-anchor="end" transform="translate(16.4 614.2) scale(0.62 1)">0.1</text>
<text class="t tk" text-anchor="end" transform="translate(16.4 567.9) scale(0.62 1)">0.12</text>
<text class="t tk" text-anchor="end" transform="translate(16.4 521.7) scale(0.62 1)">0.14</text>
<text class="t tk" text-anchor="middle" transform="translate(34.1 875.5) scale(0.62 1)">2000</text>
<text class="t tk" text-anchor="middle" transform="translate(62 875.5) scale(0.62 1)">2002</text>
<text class="t tk" text-anchor="middle" transform="translate(89.9 875.5) scale(0.62 1)">2004</text>
<text class="t tk" text-anchor="middle" transform="translate(117.8 875.5) scale(0.62 1)">2006</text>
<text class="t tk" text-anchor="middle" transform="translate(145.6 875.5) scale(0.62 1)">2008</text>
<text class="t tk" text-anchor="middle" transform="translate(173.5 875.5) scale(0.62 1)">2010</text>
<text class="t tk" text-anchor="middle" transform="translate(201.4 875.5) scale(0.62 1)">2012</text>
<text class="t tk" text-anchor="middle" transform="translate(229.2 875.5) scale(0.62 1)">2014</text>
<text class="t tk" text-anchor="middle" transform="translate(257.1 875.5) scale(0.62 1)">2016</text>
<text class="t tk" text-anchor="middle" transform="translate(285 875.5) scale(0.62 1)">2018</text>
<text class="t ti" text-anchor="middle" transform="translate(162.7 498.2) scale(0.597 1)">Russia</text>
</g>
<g id="p3">
<clipPath id="c3"><rect x="395.3" y="504.5" width="287.8" height="349.4"/></clipPath>
<path class="g" d="M395.6 505V853.4M426.6 505V853.4M457.5 505V853.4M488.5 505V853.4M519.4 505V853.4M550.4 505V853.4M581.3 505V853.4M612.2 505V853.4M643.2 505V853.4M674.2 505V853.4M395.8 828.2H682.1M395.8 726.7H682.1M395.8 625.3H682.1M395.8 523.8H682.1"/>
<path class="ax" d="M395.4 853.4H682.1M395.8 828.2h3M395.8 726.7h3M395.8 625.3h3M395.8 523.8h3"/>
<path class="axv" d="M395.8 505V853.4M395.6 853.4v-5.3M426.6 853.4v-5.3M457.5 853.4v-5.3M488.5 853.4v-5.3M519.4 853.4v-5.3M550.4 853.4v-5.3M581.3 853.4v-5.3M612.2 853.4v-5.3M643.2 853.4v-5.3M674.2 853.4v-5.3"/>
<g clip-path="url(#c3)">
<path class="d" d="M395.6 696L396.2 687.8M396.6 682.1L397.2 673.8M397.6 668.2L398.1 659.9M398.5 654.3L399.1 646M399.5 640.4L399.9 632.1M400.1 626.4L400.5 618.1M400.7 612.4L401.1 604.1M401.3 598.5L401.7 590.2M401.9 584.5L402.3 576.2M402.5 570.5L402.9 562.2M403.1 556.6L403.3 551L403.7 548.3M404.5 542.8L405.6 534.7M406.4 529.1L407.2 523L408.1 521.5M410.4 517.2L411.1 516L414.3 520.2M415.5 525.3L416.4 533.4M417.1 539L418.1 547.2M418.8 552.8L418.8 553L419.3 561M419.7 566.7L420.3 574.9M420.7 580.6L421.2 588.9M421.6 594.5L422.1 602.8M422.5 608.4L422.7 611L423.1 616.7M423.5 622.4L424.1 630.6M424.5 636.3L425.1 644.5M425.5 650.2L426.1 658.4M426.5 664.1L426.6 665L428.7 671.5M430.3 676.6L430.4 677L433.4 670.8M435.1 665.8L436.9 658.1M438.2 652.8L440.6 645.4M442.3 640.4L445 633.4M447.1 628.8L449.8 624L450.9 624M454.1 622.9L457 616.1M458.7 611.1L460.9 603.6M462.6 605.4L465.1 612.6M466.9 617.6L469.1 624L469.6 624.4M472.9 626.6L473 626.6L475.7 619.7M477.9 615.3L480.7 611L481.5 609.4M483.7 604.9L484.6 603L486.4 597.9M488.1 592.9L488.5 592L489.8 585.1M490.9 579.6L492.3 572L492.4 571.7M494.3 566.9L496.2 562L497.5 563.4M500.1 566.8L501 575M501.5 580.6L502.3 588.8M502.9 594.5L503.7 602.7M504.4 608.3L505.4 616.4M506.1 622L507.2 630.1M507.9 635.7L509.2 643.7M510.1 649.2L511.4 657.2M513.5 661.4L515.5 664L516.9 660.4M518.8 655.6L519.4 654L521.8 659M524.2 663.2L527.1 667L527.7 664.9M528.9 659.6L530.8 651.9M531.5 646.3L532.3 638.1M532.9 632.5L533.7 624.3M534.3 618.6L534.9 613L536 611.2M538.6 607.3L538.8 607L542.6 607L542.9 608.6M543.9 614.1L545.3 622.1M546.2 627.6L546.5 629L547.7 635.5M548.7 641L550.2 648.9M551.3 654.4L552.9 662.3M554 667.7L554.2 669L558.1 671L558.2 671.3M560.4 675.8L562 679L564.2 681.3M566.1 680.6L567.1 672.4M567.8 666.8L568.8 658.7M569.5 653.1L569.7 651L570.4 644.9M571 639.3L572 631.1M572.6 625.5L573.5 617.4M574.6 611.9L576.1 604M577.2 598.6L577.4 597.5L580.2 591.9M581.7 592.1L582.8 600.2M583.6 605.8L584.7 613.9M585.4 619.5L586.3 627.6M586.9 633.3L587.8 641.4M588.4 647.1L589.1 653L589.7 655M591.3 660.1L592.9 665L593.7 662.5M595.2 657.4L596.8 652L597.2 649.8M598.3 644.4L599.9 636.5M601.1 634.9L602.9 642.7M604.1 648L604.5 650L605.1 656.1M605.7 661.8L606.5 670M607 675.6L607.8 683.8M608.3 689.4L608.4 690L609.3 697.6M609.9 703.2L610.8 711.4M611.5 717L612.3 724L612.7 723.1M614.9 718.6L616.1 716L616.7 711.1M617.3 705.4L618.1 697.3M618.8 691.6L619.6 683.5M620.1 677.8L620.6 669.6M620.9 663.9L621.3 655.6M621.6 649.9L622.1 641.7M622.4 636L622.9 627.7M623.2 622L623.6 613.8M624 608.1L625.1 600M625.9 594.5L627 586.4M627.9 581.1L631.6 585L632.3 585M635.6 584.5L637 576.5M637.9 571L639.3 563M640.2 557.5L641.5 549.5M642.4 543.9L643.2 539L643.7 535.9M644.6 530.4L645.9 522.4M646.8 516.8L647.1 515L648.9 509.3M650.5 504.3L651 503L651.8 509.7M652.4 515.3L653.4 523.5M654.1 529.1L654.8 535L655.1 537.2M655.9 542.8L657 550.9M657.8 556.4L658.7 563L659.2 564.3M661.1 569.2L662.6 573L664.9 573.6M667.7 571.6L670.3 567L670.8 565.1M672.3 559.9L674.2 553L674.3 552.3M675.5 546.9L677.2 539M678.3 533.7L680.1 525.9M681.3 520.5L681.9 518"/>
<path class="d" d="M395.6 853L396 844.7M396.3 839.1L396.8 830.8M397.1 825.1L397.5 816.8M397.8 811.2L398.3 802.9M398.6 797.2L399 788.9M399.3 783.3L399.5 780L399.6 775M399.8 769.3L400.1 761M400.3 755.3L400.6 747M400.8 741.3L401.1 733M401.3 727.4L401.6 719.1M401.8 713.4L402.1 705.1M402.3 699.4L402.6 691.1M402.8 685.4L403.1 677.1M403.3 671.4L403.3 671L406.8 665.6M409.1 661.1L411.1 657L412.4 659.1M415 663.1L416.7 670.9M418 676.2L418.8 680L419 684.3M419.4 689.9L419.8 698.2M420.1 703.9L420.6 712.2M420.9 717.8L421.4 726.1M421.7 731.8L422.1 740M422.4 745.7L422.7 750L422.9 754M423.3 759.7L423.9 767.9M424.3 773.6L424.8 781.8M425.2 787.5L425.7 795.7M426.1 801.4L426.6 808L427 806.5M428.5 801.4L430.4 795L430.9 794.1M433.3 789.8L434.3 788L436.9 783.9M438.8 779.2L440.4 771.4M441.6 766L442 764L443.9 758.6M445.7 753.7L445.9 753L449.8 751L450 751.9M451.4 757.2L453.3 764.8M455.5 769.3L457.5 773L457.7 769.7M458.1 764L458.7 755.8M459.1 750.1L459.7 741.9M460.1 736.2L460.7 728M461.1 722.3L461.4 719L462.1 723.8M463 729.4L464.2 737.4M465.1 743L465.2 744L466.6 750.9M467.6 756.3L469.1 764L469.2 764.2M470.5 769.5L472.5 777.2M473.4 775.3L474.3 767.2M474.9 761.6L475.8 753.4M476.4 747.8L476.8 744L478.4 747.7M480.4 752.4L480.7 753L483.6 747.1M486.1 746.9L488.5 750L488.8 746.7M489.4 741.1L490.3 732.9M490.9 727.3L491.8 719.1M492.4 713.5L494 705.6M495.1 700.2L496.2 695L497.5 693M500 689.1L500.1 689L500.6 697.1M501 702.8L501.5 711.1M501.9 716.7L502.4 725M502.8 730.7L503.3 738.9M503.7 744.6L503.9 748L504.5 752.8M505.2 758.3L506.2 766.5M506.9 772.1L507.8 779L508.4 779.9M510.9 783.8L511.7 785L515.3 787.8M516.6 782.9L518.2 775M519.3 769.6L519.4 769L522.1 775.3M523.8 780.2L525.7 788M527 793.3L527.1 794L529.4 800.5M531 804.4L531.5 796.1M531.7 790.5L532.2 782.2M532.4 776.5L532.9 768.2M533.1 762.6L533.6 754.3M533.8 748.6L534.3 740.3M534.5 734.7L534.9 728L535.4 729.4M537.1 734.4L538.8 739L539.5 736.3M540.9 731.1L542.6 725L542.7 726.6M543.1 732.3L543.7 740.6M544.1 746.2L544.7 754.5M545 760.1L545.6 768.4M546 774L546.5 781L546.8 779.8M548.4 774.7L550.4 768L550.5 768.9M551.1 774.5L552.1 782.6M552.8 788.2L553.8 796.4M554.5 798.1L555.7 790M556.5 784.5L557.7 776.4M558.8 777L560.7 784.8M562 790.1L563.2 798.1M564.1 803.7L565.3 811.7M566 812.7L566.8 804.5M567.3 798.9L568 790.7M568.5 785L569.3 776.8M569.8 771.2L570.8 763M571.4 757.4L572.4 749.3M573 743.6L573.6 739L574.9 736.2M577.1 731.7L577.4 731L579.1 724.1M580.4 718.8L581.3 715L581.9 719.2M582.6 724.7L583.7 732.8M584.4 738.4L585.2 744L585.4 746.6M585.8 752.2L586.5 760.4M587 766.1L587.6 774.3M588.1 780L588.7 788.2M590 793L592.9 796L594.1 793.9M596.4 789.7L596.8 789L597.3 781.7M597.8 776L598.4 767.8M598.8 762.1L599.5 753.9M599.9 748.2L600.5 740M601.3 741.6L602.7 749.6M603.7 755L604.5 760L604.7 763.1M605.1 768.8L605.7 777M606.1 782.7L606.6 791M607 796.6L607.6 804.9M608 810.5L608.4 817L609.5 816.5M612.8 815.4L616.1 818L616.7 815.9M618.2 810.7L620 804L620.1 803M620.3 797.3L620.8 789.1M621.1 783.4L621.5 775.1M621.8 769.4L622.2 761.1M622.5 755.5L622.9 747.2M623.2 741.5L623.6 733.2M623.9 727.6L625 719.4M625.7 713.9L626.7 705.7M627.5 700.2L627.7 698L628.2 704.1M628.6 709.7L629.2 718M629.6 723.6L630.2 731.9M630.6 737.5L631.2 745.8M631.6 751.4L631.6 752L633.8 758.9M635.5 763.9L635.5 764L636.1 755.8M636.5 750.2L637.2 742M637.6 736.3L638.3 728.1M638.7 722.4L639.3 714.2M641.5 709.6L643.2 706L643.7 702.4M644.3 696.8L645.3 688.6M646 683.1L647 674.9M647.6 669.3L648.6 661.2M649.2 655.5L650.2 647.4M650.9 641.8L651 641L651.3 648.5M651.6 654.1L652.1 662.4M652.4 668.1L652.8 676.4M653.1 682.1L653.5 690.3M653.8 696L654.2 704.3M654.5 710L654.8 716L655 718.2M655.5 723.9L656.2 732.1M656.7 737.7L657.3 746M657.8 751.6L658.5 759.8M659.1 758.6L660.1 750.4M660.8 744.8L661.9 736.7M662.5 731.1L662.6 731L665.2 724.1M666.6 723.1L667.5 731.3M668 736.9L668.9 745.1M669.5 750.7L670.3 758.9M670.8 753.5L671.5 745.3M672 739.6L672.8 731.4M673.3 725.8L674 717.5M675.2 712.2L677.1 704.5M679.2 700.4L681.9 699"/>
<path class="s" d="M395.6 780L399.5 741L403.3 623L407.2 601L411.1 592.4L414.9 596L418.8 625L422.7 715L426.6 760L430.4 755L434.3 744L438.2 734L442 714L445.9 701L449.8 697.6L453.6 707L457.5 705.6L461.4 668L465.2 690L469.1 709L473 715L476.8 691L480.7 693L484.6 688L488.5 681L492.3 657L496.2 638L500.1 637.4L503.9 680L507.8 724L511.7 738L515.5 741L519.4 723L523.3 733L527.1 746L531 744L534.9 680L538.8 681L542.6 675L546.5 717L550.4 723L554.2 753L558.1 733L562 752L565.8 774L569.7 728L573.6 690L577.4 677L581.3 660L585.2 685L589.1 740L592.9 749L596.8 736L600.7 693L604.5 717L608.4 784L612.3 788L616.1 793L620 760L623.9 677L627.7 646L631.6 682L635.5 686L639.3 649L643.2 631L647.1 603L651 579L654.8 633L658.7 669L662.6 667L666.4 660L670.3 673L674.2 651L678 631L681.9 626"/>
</g>
<text class="t tk" text-anchor="end" transform="translate(392 833.2) scale(0.62 1)">0</text>
<text class="t tk" text-anchor="end" transform="translate(392 731.7) scale(0.62 1)">0.05</text>
<text class="t tk" text-anchor="end" transform="translate(392 630.3) scale(0.62 1)">0.1</text>
<text class="t tk" text-anchor="end" transform="translate(392 528.8) scale(0.62 1)">0.15</text>
<text class="t tk" text-anchor="middle" transform="translate(395.6 875.5) scale(0.62 1)">2002</text>
<text class="t tk" text-anchor="middle" transform="translate(426.6 875.5) scale(0.62 1)">2004</text>
<text class="t tk" text-anchor="middle" transform="translate(457.5 875.5) scale(0.62 1)">2006</text>
<text class="t tk" text-anchor="middle" transform="translate(488.5 875.5) scale(0.62 1)">2008</text>
<text class="t tk" text-anchor="middle" transform="translate(519.4 875.5) scale(0.62 1)">2010</text>
<text class="t tk" text-anchor="middle" transform="translate(550.4 875.5) scale(0.62 1)">2012</text>
<text class="t tk" text-anchor="middle" transform="translate(581.3 875.5) scale(0.62 1)">2014</text>
<text class="t tk" text-anchor="middle" transform="translate(612.2 875.5) scale(0.62 1)">2016</text>
<text class="t tk" text-anchor="middle" transform="translate(643.2 875.5) scale(0.62 1)">2018</text>
<text class="t tk" text-anchor="middle" transform="translate(674.2 875.5) scale(0.62 1)">2020</text>
<text class="t ti" text-anchor="middle" transform="translate(538.5 498.2) scale(0.597 1)">Turkey</text>
</g>
</svg>
</body></html>
